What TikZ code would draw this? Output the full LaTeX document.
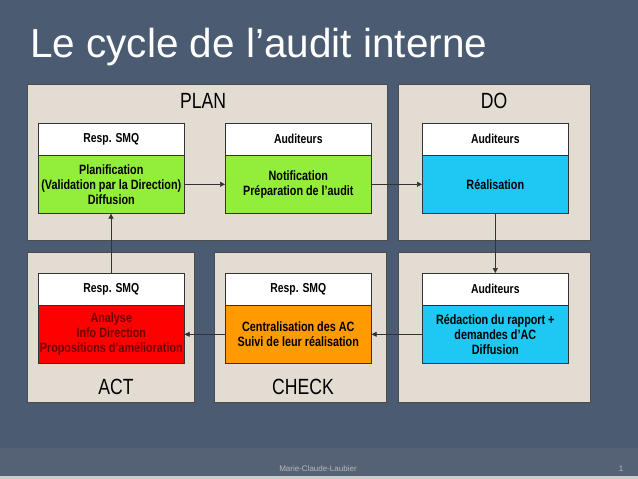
\documentclass[tikz,border=0pt]{standalone}
\usepackage{fontspec}
\setmainfont{Liberation Sans}
\newfontfamily\cond[FakeStretch=0.8]{Liberation Sans}
\usetikzlibrary{arrows.meta}
\definecolor{bg}{HTML}{4B5B72}
\definecolor{panel}{HTML}{E3DCD2}
\definecolor{grn}{HTML}{92EE3A}
\definecolor{blu}{HTML}{1FC8F2}
\definecolor{org}{HTML}{FF9A00}
\definecolor{dred}{HTML}{6A0000}
\tikzset{
 pnl/.style={draw=black!70,fill=panel,line width=0.6pt},
 hdr/.style={draw=black!80,fill=white,line width=0.6pt,font=\cond\bfseries\fontsize{13}{15}\selectfont},
 bdy/.style={draw=black!80,line width=0.6pt,font=\cond\bfseries\fontsize{13.5}{15}\selectfont,align=center,inner sep=1pt},
 plab/.style={font=\cond\fontsize{22}{24}\selectfont,text=black},
 arr/.style={-{Triangle[length=5pt,width=5pt]},draw=black!80,line width=0.7pt}
}
\begin{document}
\begin{tikzpicture}[x=1pt,y=-1pt]
\useasboundingbox (0,0) rectangle (638,479);
\fill[bg] (0,0) rectangle (638,479);
\fill[bg!80!gray] (0,448) rectangle (638,476);
\fill[gray!40] (0,476) rectangle (638,479);
\node[anchor=base west,text=white,font=\fontsize{40.5}{46}\selectfont,inner sep=0] (title) at (30,57) {Le cycle de l’audit interne};
% panels
\draw[pnl] (27,84) rectangle (387,240);
\draw[pnl] (398,84) rectangle (590,240);
\draw[pnl] (27,252) rectangle (194,402);
\draw[pnl] (214,252) rectangle (386,402);
\draw[pnl] (398,252) rectangle (590,402);
\node[plab] (plan) at (203,101) {PLAN};
\node[plab] (do) at (494,101) {DO};
\node[plab] (act) at (116,387) {ACT};
\node[plab] (check) at (303,387) {CHECK};
% boxes top
\node[hdr,minimum width=146,minimum height=32,anchor=north west] (h1) at (38,123) {Resp. SMQ};
\node[bdy,fill=grn,minimum width=146,minimum height=58,anchor=north west] (b1) at (38,155) {Planification\\(Validation par la Direction)\\Diffusion};
\node[hdr,minimum width=146,minimum height=32,anchor=north west] (h2) at (225,123) {Auditeurs};
\node[bdy,fill=grn,minimum width=146,minimum height=58,anchor=north west] (b2) at (225,155) {Notification\\Préparation de l’audit};
\node[hdr,minimum width=146,minimum height=32,anchor=north west] (h3) at (422,123) {Auditeurs};
\node[bdy,fill=blu,minimum width=146,minimum height=58,anchor=north west] (b3) at (422,155) {Réalisation};
% boxes bottom
\node[hdr,minimum width=146,minimum height=32,anchor=north west] (h4) at (38,273) {Resp. SMQ};
\node[bdy,fill=red,text=dred,minimum width=146,minimum height=58,anchor=north west] (b4) at (38,305) {Analyse\\Info Direction\\Propositions d’amélioration};
\node[hdr,minimum width=146,minimum height=32,anchor=north west] (h5) at (225,273) {Resp. SMQ};
\node[bdy,fill=org,minimum width=146,minimum height=58,anchor=north west] (b5) at (225,305) {Centralisation des AC\\Suivi de leur réalisation};
\node[hdr,minimum width=146,minimum height=32,anchor=north west] (h6) at (422,273) {Auditeurs};
\node[bdy,fill=blu,minimum width=146,minimum height=58,anchor=north west] (b6) at (422,305) {Rédaction du rapport +\\demandes d’AC\\Diffusion};
% arrows
\draw[arr] (b1.east) -- (b2.west);
\draw[arr] (b2.east) -- (b3.west);
\draw[arr] (b3.south) -- (h6.north);
\draw[arr] (b6.west) -- (b5.east);
\draw[arr] (b5.west) -- (b4.east);
\draw[arr] (h4.north -| 111,0) -- (b1.south -| 111,0);
% footer
\node[text=gray!55,font=\fontsize{8}{9}\selectfont] (foot) at (318,469) {Marie-Claude-Laubier};
\node[text=gray!55,font=\fontsize{8}{9}\selectfont] (pg) at (621,469) {1};
\end{tikzpicture}
\end{document}
